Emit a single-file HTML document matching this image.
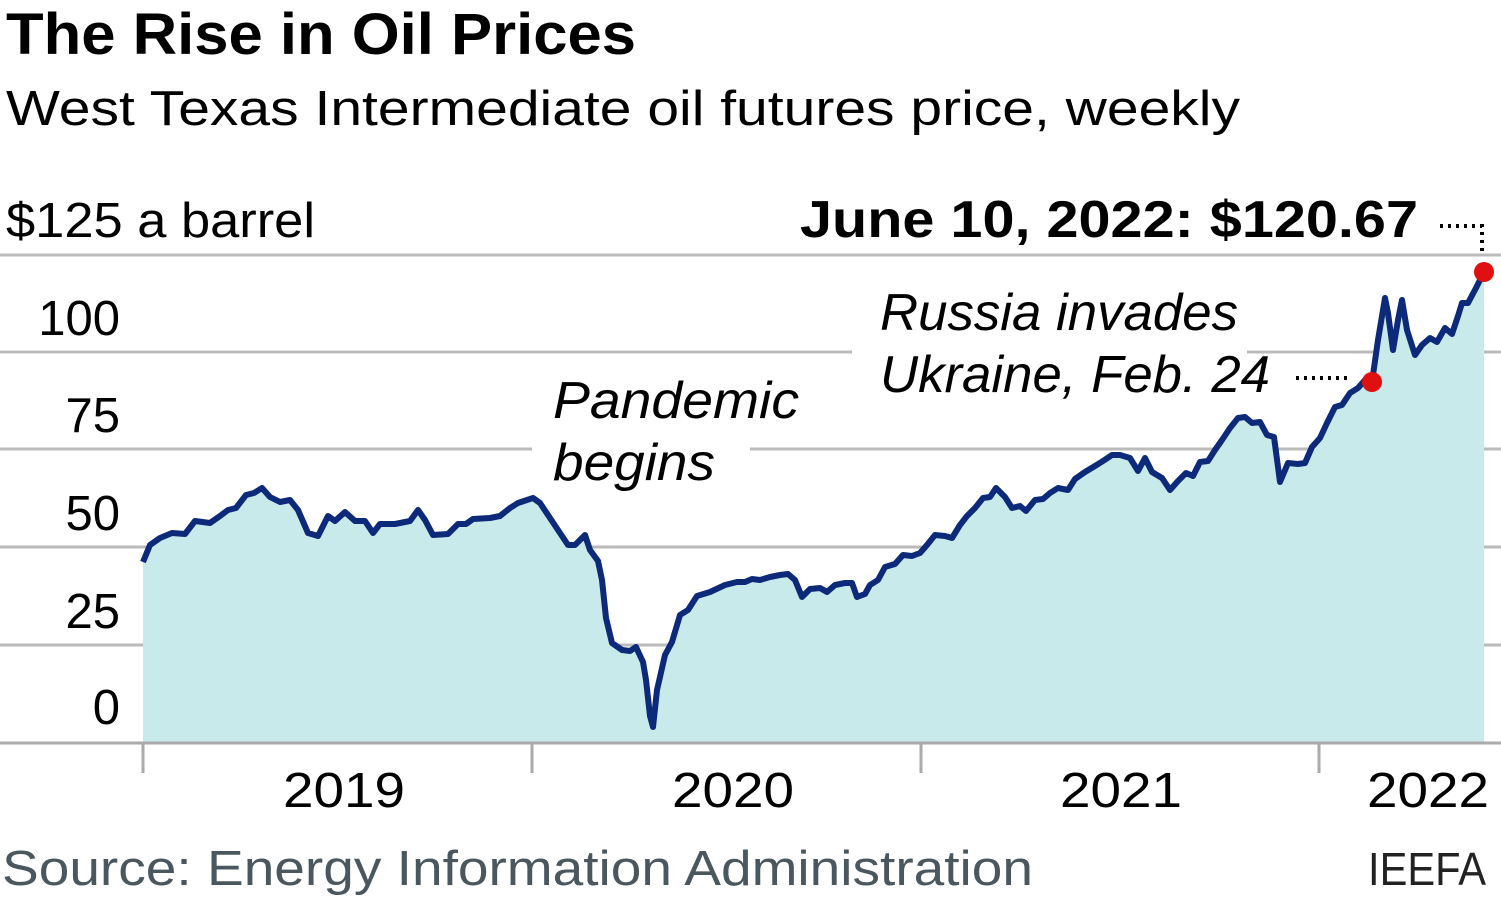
<!DOCTYPE html>
<html><head><meta charset="utf-8"><style>
html,body{margin:0;padding:0;background:#fff;width:1501px;height:901px;overflow:hidden}
text{font-family:"Liberation Sans",sans-serif}
</style></head><body>
<svg width="1501" height="901" viewBox="0 0 1501 901" xmlns="http://www.w3.org/2000/svg">
<text x="6" y="54" font-size="58" font-weight="bold" fill="#000" textLength="630" lengthAdjust="spacingAndGlyphs">The Rise in Oil Prices</text>
<text x="6" y="125" font-size="49" fill="#000" textLength="1234" lengthAdjust="spacingAndGlyphs">West Texas Intermediate oil futures price, weekly</text>
<g stroke="#bbb" stroke-width="3">
<line x1="0" y1="255" x2="1501" y2="255"/>
<line x1="0" y1="352" x2="1501" y2="352"/>
<line x1="0" y1="449" x2="1501" y2="449"/>
<line x1="0" y1="547" x2="1501" y2="547"/>
<line x1="0" y1="645" x2="1501" y2="645"/>
</g>
<polygon fill="#c8eaea" points="143,743 143,562 150,545 160,538 172,533 185,534 195,521 210,523 220,516 228,510 236,508 246,495 254,493 262,488 270,497 280,502 290,500 298,510 308,533 318,536 328,516 335,521 345,512 355,521 365,521 373,533 380,524 395,524 410,521 418,510 425,520 433,535 448,534 458,524 466,524 473,519 490,518 500,516 510,508 518,503 527,500 533,498 540,503 550,518 560,533 568,545 575,545 585,535 590,550 598,561 602,580 606,618 612,643 622,650 630,651 636,647 643,662 646,680 650,716 653,727 657,690 665,655 672,642 680,615 688,610 697,596 710,592 725,585 737,582 745,582 752,579 760,580 770,577 780,575 788,574 795,580 802,597 810,589 820,588 827,592 835,585 845,583 852,583 857,597 865,594 870,585 878,580 885,567 895,564 903,555 912,556 920,553 927,545 935,535 945,536 952,538 960,525 967,516 975,508 983,498 990,497 996,488 1005,497 1012,508 1020,506 1026,511 1035,500 1043,499 1050,493 1058,488 1068,490 1075,479 1085,472 1095,466 1103,461 1112,455 1120,455 1130,458 1138,471 1145,458 1152,472 1162,478 1170,490 1178,481 1186,473 1193,476 1200,462 1208,461 1215,450 1222,440 1230,428 1238,418 1245,417 1252,423 1260,422 1267,435 1274,437 1280,482 1288,463 1298,464 1305,463 1312,447 1320,438 1327,423 1335,407 1342,405 1350,393 1358,388 1365,380 1372,382 1378,340 1385,298 1388,313 1393,350 1398,320 1402,300 1407,330 1415,355 1422,345 1430,338 1437,342 1445,328 1452,334 1458,316 1462,303 1468,303 1476,288 1484,272 1484,743"/>
<rect x="532" y="365" width="218" height="125" fill="#fff"/>
<rect x="852" y="282" width="395" height="118" fill="#fff"/>
<polyline fill="none" stroke="#0d2a7a" stroke-width="6" stroke-linejoin="round" points="143,562 150,545 160,538 172,533 185,534 195,521 210,523 220,516 228,510 236,508 246,495 254,493 262,488 270,497 280,502 290,500 298,510 308,533 318,536 328,516 335,521 345,512 355,521 365,521 373,533 380,524 395,524 410,521 418,510 425,520 433,535 448,534 458,524 466,524 473,519 490,518 500,516 510,508 518,503 527,500 533,498 540,503 550,518 560,533 568,545 575,545 585,535 590,550 598,561 602,580 606,618 612,643 622,650 630,651 636,647 643,662 646,680 650,716 653,727 657,690 665,655 672,642 680,615 688,610 697,596 710,592 725,585 737,582 745,582 752,579 760,580 770,577 780,575 788,574 795,580 802,597 810,589 820,588 827,592 835,585 845,583 852,583 857,597 865,594 870,585 878,580 885,567 895,564 903,555 912,556 920,553 927,545 935,535 945,536 952,538 960,525 967,516 975,508 983,498 990,497 996,488 1005,497 1012,508 1020,506 1026,511 1035,500 1043,499 1050,493 1058,488 1068,490 1075,479 1085,472 1095,466 1103,461 1112,455 1120,455 1130,458 1138,471 1145,458 1152,472 1162,478 1170,490 1178,481 1186,473 1193,476 1200,462 1208,461 1215,450 1222,440 1230,428 1238,418 1245,417 1252,423 1260,422 1267,435 1274,437 1280,482 1288,463 1298,464 1305,463 1312,447 1320,438 1327,423 1335,407 1342,405 1350,393 1358,388 1365,380 1372,382 1378,340 1385,298 1388,313 1393,350 1398,320 1402,300 1407,330 1415,355 1422,345 1430,338 1437,342 1445,328 1452,334 1458,316 1462,303 1468,303 1476,288 1484,272"/>
<g stroke="#aaa" stroke-width="3">
<line x1="0" y1="743" x2="1501" y2="743"/>
<line x1="143" y1="743" x2="143" y2="773"/>
<line x1="532" y1="743" x2="532" y2="773"/>
<line x1="921" y1="743" x2="921" y2="773"/>
<line x1="1319" y1="743" x2="1319" y2="773"/>
</g>
<circle cx="1372" cy="382" r="10" fill="#e01010"/>
<circle cx="1484" cy="272" r="10" fill="#e01010"/>
<g stroke="#000" stroke-width="4" stroke-dasharray="3,5" fill="none">
<line x1="1296" y1="378" x2="1348" y2="378"/>
<polyline points="1440,226 1482,226 1482,254"/>
</g>
<g font-size="49" fill="#000">
<text x="6" y="237" textLength="309" lengthAdjust="spacingAndGlyphs">$125 a barrel</text>
<text x="120" y="335" text-anchor="end">100</text>
<text x="120" y="432" text-anchor="end">75</text>
<text x="120" y="530" text-anchor="end">50</text>
<text x="120" y="628" text-anchor="end">25</text>
<text x="120" y="724" text-anchor="end">0</text>
<text x="283" y="807" textLength="122" lengthAdjust="spacingAndGlyphs">2019</text>
<text x="672" y="807" textLength="122" lengthAdjust="spacingAndGlyphs">2020</text>
<text x="1060" y="807" textLength="122" lengthAdjust="spacingAndGlyphs">2021</text>
<text x="1367" y="807" textLength="122" lengthAdjust="spacingAndGlyphs">2022</text>
</g>
<text x="800" y="237" font-size="52" font-weight="bold" fill="#000" textLength="618" lengthAdjust="spacingAndGlyphs">June 10, 2022: $120.67</text>
<g font-size="52" font-style="italic" fill="#000">
<text x="553" y="418" textLength="246" lengthAdjust="spacingAndGlyphs">Pandemic</text>
<text x="553" y="480" textLength="162" lengthAdjust="spacingAndGlyphs">begins</text>
<text x="880" y="330" textLength="358" lengthAdjust="spacingAndGlyphs">Russia invades</text>
<text x="880" y="392" textLength="390" lengthAdjust="spacingAndGlyphs">Ukraine, Feb. 24</text>
</g>
<text x="2" y="885" font-size="49" fill="#4a575e" textLength="1031" lengthAdjust="spacingAndGlyphs">Source: Energy Information Administration</text>
<text x="1368" y="885" font-size="46" fill="#222" textLength="118" lengthAdjust="spacingAndGlyphs">IEEFA</text>
</svg>
</body></html>
